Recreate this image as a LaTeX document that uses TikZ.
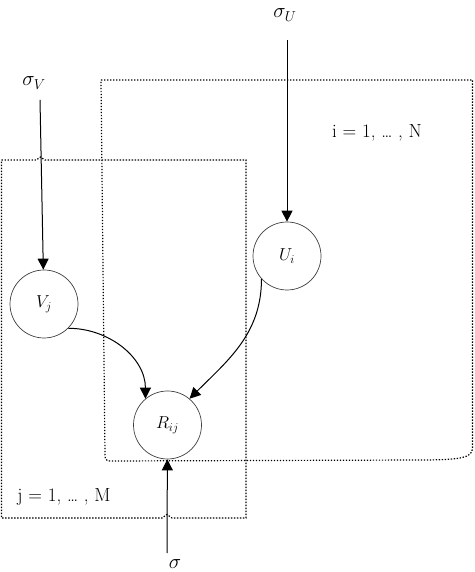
\documentclass[tikz,border=0pt]{standalone}
\usetikzlibrary{arrows.meta}
\begin{document}
\begin{tikzpicture}[
    x=1pt, y=1pt,
    var/.style={circle, draw=black!75, fill=white, line width=0.7pt, minimum size=68pt, inner sep=0pt, font=\LARGE},
    param/.style={font=\huge, inner sep=0pt},
    platelabel/.style={font=\fontsize{19}{23}\selectfont, inner sep=1pt},
    edge/.style={-{Triangle[length=11pt,width=11pt]}, line width=1pt},
    plate/.style={line width=1.2pt, dash pattern=on 1.4pt off 1.6pt}
]
    \useasboundingbox (0,0) rectangle (474,572);

    % plate i = 1..N
    \draw[plate] (101,492) -- (472.5,492) -- (472.5,124)
        .. controls (472.5,114) and (460,112) .. (420,112) -- (110,111)
        .. controls (106,111) and (105,113) .. (105,117) -- cycle;
    \node[platelabel] (plateN) at (377,439) {i = 1, \ldots{} , N};

    % plate j = 1..M
    \draw[plate] (1.5,412) -- (36,412)
        .. controls (38,412) and (39,415) .. (40.5,415)
        .. controls (42,415) and (43,412) .. (45,412) -- (246,412)
        -- (246,54) -- (172,54)
        .. controls (170,54) and (169,57.5) .. (167,57.5)
        .. controls (165,57.5) and (164,54) .. (162,54) -- (1.5,54) -- cycle;
    \node[platelabel] (plateM) at (64,75) {j = 1, \ldots{} , M};

    \node[var] (V) at (44,268) {$V_j$};
    \node[var] (U) at (287,316) {$U_i$};
    \node[var] (R) at (167.5,147) {$R_{ij}$};

    \node[param] (sigV) at (34,489) {$\sigma_V$};
    \node[param] (sigU) at (285,557) {$\sigma_U$};
    \node[param] (sig) at (175,8) {$\sigma$};
    \coordinate (sigVend) at (40,472);
    \coordinate (sigUend) at (287,532);
    \coordinate (sigend) at (167,19);

    \draw[edge] (sigVend) -- (V);
    \draw[edge] (sigUend) -- (U);
    \draw[edge] (sigend) -- (R);
    \draw[edge] (V.-45) to[out=0, in=90] (R.130);
    \draw[edge] (U.-138) to[out=-90, in=45] (R.50);
\end{tikzpicture}
\end{document}
